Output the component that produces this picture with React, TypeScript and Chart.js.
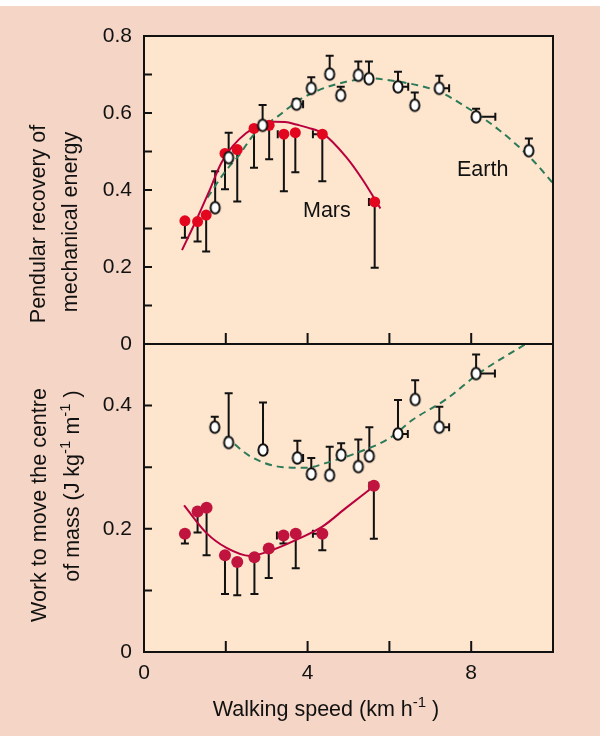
import React, { useEffect, useRef } from 'react';
import { Chart, registerables } from 'chart.js';

Chart.register(...registerables);

// ---------- data ----------
const xTickValues = [0, 4, 8];
const yTopLabels = [0, 0.2, 0.4, 0.6, 0.8];
const yBotLabels = [0, 0.2, 0.4];

// Top panel: pendular recovery
const earthTopX = [1.74, 2.07, 2.9, 3.73, 4.09, 4.54, 4.81, 5.24, 5.5, 6.21, 6.62, 7.22, 8.12, 9.41];
const earthTopY = [0.354, 0.484, 0.568, 0.623, 0.664, 0.701, 0.646, 0.698, 0.689, 0.668, 0.62, 0.664, 0.59, 0.502];
const earthTopHi = [0.449, 0.549, 0.621, 0.636, 0.693, 0.749, 0.668, 0.734, 0.734, 0.707, 0.653, 0.697, 0.611, 0.534];
const earthTopXHi = [null, null, null, 3.89, null, null, null, null, null, 6.46, null, 7.46, 8.59, null];

const marsTopX = [1.0, 1.31, 1.52, 1.98, 2.28, 2.69, 3.06, 3.42, 3.7, 4.36, 5.64];
const marsTopY = [0.32, 0.318, 0.335, 0.495, 0.505, 0.56, 0.568, 0.545, 0.549, 0.545, 0.369];
const marsTopLo = [0.276, 0.266, 0.24, 0.402, 0.37, 0.458, 0.48, 0.397, 0.446, 0.423, 0.198];
const marsTopXLo = [null, null, null, null, null, null, null, 3.27, null, 4.13, 5.5];

const earthFitTopX = [1.55, 2.0, 2.3, 2.71, 3.28, 3.8, 4.29, 4.94, 5.59, 5.92, 6.65, 7.22, 7.87, 8.68, 9.5, 9.98];
const earthFitTopY = [0.38, 0.45, 0.487, 0.547, 0.592, 0.634, 0.66, 0.681, 0.69, 0.686, 0.673, 0.655, 0.616, 0.556, 0.478, 0.42];

const marsFitTopX = [0.93, 1.28, 1.57, 1.89, 2.18, 2.5, 2.82, 3.2, 3.5, 3.72, 4.0, 4.37, 4.94, 5.35, 5.78];
const marsFitTopY = [0.244, 0.322, 0.391, 0.47, 0.515, 0.548, 0.568, 0.577, 0.576, 0.57, 0.562, 0.547, 0.486, 0.426, 0.352];

// Bottom panel: work to move the centre of mass
const earthBotX = [1.73, 2.07, 2.91, 3.75, 4.09, 4.54, 4.82, 5.24, 5.51, 6.21, 6.63, 7.22, 8.12];
const earthBotY = [0.365, 0.34, 0.328, 0.315, 0.289, 0.287, 0.32, 0.301, 0.318, 0.354, 0.41, 0.365, 0.452];
const earthBotHi = [0.382, 0.42, 0.405, 0.343, 0.315, 0.333, 0.339, 0.345, 0.365, 0.409, 0.441, 0.398, 0.483];
const earthBotXHi = [null, null, 3.0, 3.89, null, null, null, null, null, 6.45, null, 7.46, 8.58];

const marsBotX = [1.0, 1.31, 1.53, 1.98, 2.28, 2.7, 3.05, 3.41, 3.71, 4.36, 5.62];
const marsBotY = [0.192, 0.228, 0.234, 0.157, 0.146, 0.154, 0.168, 0.189, 0.192, 0.192, 0.27];
const marsBotLo = [0.176, 0.194, 0.157, 0.094, 0.092, 0.094, 0.12, 0.176, 0.136, 0.165, 0.184];
const marsBotXLo = [null, null, null, null, null, null, null, 3.25, null, 4.13, 5.51];

const earthFitBotX = [2.0, 2.59, 3.4, 3.97, 4.46, 5.19, 6.0, 6.57, 7.38, 8.2, 9.33];
const earthFitBotY = [0.35, 0.318, 0.3, 0.299, 0.307, 0.323, 0.347, 0.377, 0.41, 0.453, 0.5];

const marsFitBotX = [0.98, 1.53, 2.02, 2.59, 3.15, 3.72, 4.37, 4.94, 5.62];
const marsFitBotY = [0.238, 0.193, 0.169, 0.156, 0.166, 0.182, 0.204, 0.234, 0.269];

// ---------- style ----------
const FONT = '"Liberation Sans", Arial, Helvetica, sans-serif';
const OUTER_BG = '#f5d5c5';
const PLOT_BG = '#fde5ce';
const MARS_TOP = '#e3061f';
const MARS_BOT = '#c0143f';
const MARS_LINE = '#b8003c';
const EARTH_LINE = '#2b7a58';
const INK = '#111111';

const pts = (xs: number[], ys: number[]) => xs.map((x, i) => ({ x, y: ys[i] }));

function makeOval(): HTMLCanvasElement {
  const c = document.createElement('canvas');
  c.width = 14;
  c.height = 16;
  const g = c.getContext('2d')!;
  g.beginPath();
  g.ellipse(7, 8, 4.6, 5.8, 0, 0, Math.PI * 2);
  g.fillStyle = '#ffffff';
  g.fill();
  g.lineWidth = 2;
  g.strokeStyle = INK;
  g.stroke();
  return c;
}

type Seg = { t: string; sup?: boolean };

function drawRich(ctx: CanvasRenderingContext2D, segs: Seg[], cx: number, cy: number, rotate: boolean) {
  const main = `21.5px ${FONT}`;
  const small = `15px ${FONT}`;
  let total = 0;
  for (const s of segs) {
    ctx.font = s.sup ? small : main;
    total += ctx.measureText(s.t).width;
  }
  ctx.save();
  ctx.translate(cx, cy);
  if (rotate) ctx.rotate(-Math.PI / 2);
  ctx.fillStyle = INK;
  ctx.textAlign = 'left';
  ctx.textBaseline = 'alphabetic';
  let x = -total / 2;
  for (const s of segs) {
    ctx.font = s.sup ? small : main;
    ctx.fillText(s.t, x, s.sup ? -9 : 0);
    x += ctx.measureText(s.t).width;
  }
  ctx.restore();
}

function drawErrors(
  ctx: CanvasRenderingContext2D,
  sx: any,
  sy: any,
  xs: number[],
  ys: number[],
  ends: number[],
  xEnds: (number | null)[]
) {
  const cap = 4;
  ctx.beginPath();
  for (let i = 0; i < xs.length; i++) {
    const px = sx.getPixelForValue(xs[i]);
    const py = sy.getPixelForValue(ys[i]);
    const pe = sy.getPixelForValue(ends[i]);
    ctx.moveTo(px, py);
    ctx.lineTo(px, pe);
    ctx.moveTo(px - cap, pe);
    ctx.lineTo(px + cap, pe);
    const xe = xEnds[i];
    if (xe !== null && xe !== undefined) {
      const pxe = sx.getPixelForValue(xe);
      ctx.moveTo(px, py);
      ctx.lineTo(pxe, py);
      ctx.moveTo(pxe, py - cap);
      ctx.lineTo(pxe, py + cap);
    }
  }
  ctx.stroke();
}

const decorPlugin = {
  id: 'decor',
  beforeDraw(chart: any) {
    const ctx = chart.ctx as CanvasRenderingContext2D;
    const { left, right, top, bottom } = chart.chartArea;
    ctx.save();
    ctx.fillStyle = OUTER_BG;
    ctx.fillRect(0, 0, chart.width, chart.height);
    ctx.fillStyle = '#ffffff';
    ctx.fillRect(0, 0, chart.width, 6);
    ctx.fillStyle = PLOT_BG;
    ctx.fillRect(left, top, right - left, bottom - top);
    ctx.restore();
  },
  beforeDatasetsDraw(chart: any) {
    const ctx = chart.ctx as CanvasRenderingContext2D;
    const sx = chart.scales.x;
    const yt = chart.scales.yTop;
    const yb = chart.scales.yBot;
    ctx.save();
    ctx.strokeStyle = INK;
    ctx.lineWidth = 2;
    drawErrors(ctx, sx, yt, earthTopX, earthTopY, earthTopHi, earthTopXHi);
    drawErrors(ctx, sx, yt, marsTopX, marsTopY, marsTopLo, marsTopXLo);
    drawErrors(ctx, sx, yb, earthBotX, earthBotY, earthBotHi, earthBotXHi);
    drawErrors(ctx, sx, yb, marsBotX, marsBotY, marsBotLo, marsBotXLo);
    ctx.restore();
  },
  afterDraw(chart: any) {
    const ctx = chart.ctx as CanvasRenderingContext2D;
    const sx = chart.scales.x;
    const yt = chart.scales.yTop;
    const yb = chart.scales.yBot;
    const { left, right, top, bottom } = chart.chartArea;
    const mid = yt.getPixelForValue(0);
    ctx.save();
    ctx.strokeStyle = INK;
    ctx.lineWidth = 2;
    ctx.strokeRect(left, top, right - left, bottom - top);
    ctx.beginPath();
    ctx.moveTo(left, mid);
    ctx.lineTo(right, mid);
    for (const v of [2, 4, 6, 8]) {
      const px = sx.getPixelForValue(v);
      ctx.moveTo(px, mid);
      ctx.lineTo(px, mid - 11);
      ctx.moveTo(px, bottom);
      ctx.lineTo(px, bottom - 11);
    }
    for (let k = 1; k <= 7; k++) {
      const py = yt.getPixelForValue(k / 10);
      ctx.moveTo(left, py);
      ctx.lineTo(left + 8, py);
    }
    for (let k = 1; k <= 4; k++) {
      const py = yb.getPixelForValue(k / 10);
      ctx.moveTo(left, py);
      ctx.lineTo(left + 8, py);
    }
    ctx.stroke();

    ctx.fillStyle = INK;
    ctx.font = `21.5px ${FONT}`;
    ctx.textAlign = 'left';
    ctx.textBaseline = 'alphabetic';
    ctx.fillText('Earth', 457, 176);
    ctx.fillText('Mars', 303, 217);

    drawRich(ctx, [{ t: 'Pendular recovery of' }], 45, 224, true);
    drawRich(ctx, [{ t: 'mechanical energy' }], 77, 222, true);
    drawRich(ctx, [{ t: 'Work to move the centre' }], 46, 505, true);
    drawRich(
      ctx,
      [{ t: 'of mass (J kg' }, { t: '-1', sup: true }, { t: ' m' }, { t: '-1', sup: true }, { t: ' )' }],
      79,
      486,
      true
    );
    drawRich(ctx, [{ t: 'Walking speed (km h' }, { t: '-1', sup: true }, { t: ' )' }], 326, 716, false);
    ctx.restore();
  },
};

export default function App() {
  const ref = useRef<HTMLCanvasElement | null>(null);

  useEffect(() => {
    if (!ref.current) return;
    const oval = makeOval();
    const fitLine = (xs: number[], ys: number[], axis: string, color: string, dashed: boolean) => ({
      data: pts(xs, ys),
      yAxisID: axis,
      showLine: true,
      borderColor: color,
      borderWidth: 2,
      borderDash: dashed ? [7, 5] : [],
      pointRadius: 0,
      cubicInterpolationMode: 'monotone' as const,
      fill: false,
    });
    const chart = new Chart(ref.current, {
      type: 'scatter',
      data: {
        datasets: [
          { data: pts(earthTopX, earthTopY), yAxisID: 'yTop', pointStyle: oval as any, pointRadius: 7 },
          { data: pts(earthBotX, earthBotY), yAxisID: 'yBot', pointStyle: oval as any, pointRadius: 7 },
          {
            data: pts(marsTopX, marsTopY),
            yAxisID: 'yTop',
            pointStyle: 'circle',
            pointRadius: 5.5,
            backgroundColor: MARS_TOP,
            borderColor: MARS_TOP,
            borderWidth: 0,
          },
          {
            data: pts(marsBotX, marsBotY),
            yAxisID: 'yBot',
            pointStyle: 'circle',
            pointRadius: 6,
            backgroundColor: MARS_BOT,
            borderColor: MARS_BOT,
            borderWidth: 0,
          },
          fitLine(marsFitTopX, marsFitTopY, 'yTop', MARS_LINE, false),
          fitLine(marsFitBotX, marsFitBotY, 'yBot', MARS_LINE, false),
          fitLine(earthFitTopX, earthFitTopY, 'yTop', EARTH_LINE, true),
          fitLine(earthFitBotX, earthFitBotY, 'yBot', EARTH_LINE, true),
        ] as any,
      },
      options: {
        animation: false,
        responsive: false,
        events: [],
        layout: { padding: { top: 36, right: 47, left: 0, bottom: 0 } },
        plugins: { legend: { display: false }, tooltip: { enabled: false } },
        scales: {
          x: {
            type: 'linear',
            position: 'bottom',
            min: 0,
            max: 10,
            grid: { display: false, drawTicks: false },
            border: { display: false },
            ticks: {
              stepSize: 2,
              autoSkip: false,
              maxRotation: 0,
              padding: 9,
              color: INK,
              font: { family: FONT, size: 21 },
              callback: (v: any) => (xTickValues.includes(Number(v)) ? String(v) : ''),
            },
            afterFit: (s: any) => {
              s.height = 84;
            },
          },
          yBot: {
            type: 'linear',
            position: 'left',
            stack: 'panels',
            stackWeight: 1,
            min: 0,
            max: 0.5,
            grid: { display: false, drawTicks: false },
            border: { display: false },
            ticks: {
              stepSize: 0.1,
              autoSkip: false,
              padding: 12,
              color: INK,
              font: { family: FONT, size: 21 },
              callback: (v: any) => {
                const n = Math.round(Number(v) * 10) / 10;
                return yBotLabels.includes(n) ? String(n) : '';
              },
            },
            afterFit: (s: any) => {
              s.width = 144;
            },
          },
          yTop: {
            type: 'linear',
            position: 'left',
            stack: 'panels',
            stackWeight: 1,
            min: 0,
            max: 0.8,
            grid: { display: false, drawTicks: false },
            border: { display: false },
            ticks: {
              stepSize: 0.1,
              autoSkip: false,
              padding: 12,
              color: INK,
              font: { family: FONT, size: 21 },
              callback: (v: any) => {
                const n = Math.round(Number(v) * 10) / 10;
                return yTopLabels.includes(n) ? String(n) : '';
              },
            },
            afterFit: (s: any) => {
              s.width = 144;
            },
          },
        },
      } as any,
      plugins: [decorPlugin],
    });
    return () => chart.destroy();
  }, []);

  return (
    <div style={{ position: 'absolute', left: 0, top: 0, width: 600, height: 736 }}>
      <canvas ref={ref} width={600} height={736} style={{ width: 600, height: 736, display: 'block' }} />
    </div>
  );
}
